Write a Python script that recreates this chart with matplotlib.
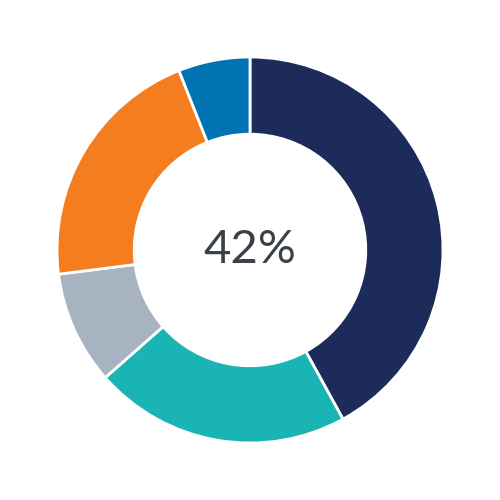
import matplotlib.pyplot as plt

# segment shares, clockwise from 12 o'clock
labels = ["Navy", "Teal", "Gray", "Orange", "Blue"]
values = [42, 21.5, 9.5, 21, 6]
colors = ["#1c2b5a", "#1bb4b5", "#a8b3c2", "#f47d20", "#0073b3"]
center_text = "42%"

fig = plt.figure(figsize=(5, 5), dpi=100)
ax = fig.add_axes([0, 0, 1, 1])

ax.pie(values, colors=colors, startangle=90, counterclock=False,
       radius=1.0,
       wedgeprops=dict(width=0.40, edgecolor="white", linewidth=2))

ax.text(0, 0, center_text, ha="center", va="center",
        fontsize=34, color="#3a4148", family=["Lato", "DejaVu Sans"])

lim = 250 / 193
ax.set_xlim(-lim, lim)
ax.set_ylim(-lim, lim)
ax.set_aspect("equal")
ax.axis("off")

fig.savefig("out.png", dpi=100, facecolor="white")
